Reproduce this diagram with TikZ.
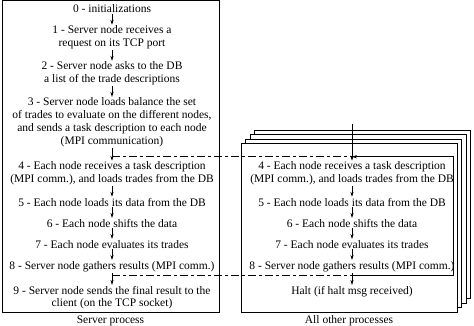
\documentclass[tikz,border=0pt]{standalone}
\usepackage{fontspec}
\setmainfont{Liberation Serif}
\usepackage{tikz}
\usetikzlibrary{arrows.meta,positioning}
\newcommand{\stepfont}{\fontsize{11.5}{12.7}\selectfont}
\tikzset{
 stepnode/.style={
 align=center,
 inner sep=1pt,
 font=\stepfont
 },
 procbox/.style={
 rectangle,
 draw=black,
 fill=white,
 line width=1pt
 },
 flowarrow/.style={-{Stealth[length=5pt,width=3.2pt]}, line width=0.6pt},
 msgline/.style={line width=0.6pt, dash pattern=on 8pt off 3pt on 3pt off 3pt}
}

\begin{document}
\begin{tikzpicture}[x=1pt, y=1pt, node distance=10.5pt]
	\useasboundingbox (0,0) rectangle (474,-326);
	% process boxes
	\node[procbox, minimum width=217pt, minimum height=311pt] (srvbox) at (110.5,-156.5) {};
	\foreach \k in {3,2,1}
		\node[procbox, minimum width=216pt, minimum height=168pt] (back\k) at (349+4.5*\k,-228+4.5*\k) {};
	\node[procbox, minimum width=216pt, minimum height=168pt] (othbox) at (349,-228) {};
	\node[stepnode, below=2pt of srvbox] (srvlbl) {Server process};
	\node[stepnode, below=2pt of othbox] (othlbl) {All other processes};

	% server process
	\node[stepnode] (s0) at (112,-9) {0 - initializations};
	\node[stepnode, below=of s0] (s1) {1 - Server node receives a\\request on its TCP port};
	\node[stepnode, below=of s1] (s2) {2 - Server node asks to the DB\\a list of the trade descriptions};
	\node[stepnode, below=of s2] (s3) {3 - Server node loads balance the set\\of trades to evaluate on the different nodes,\\and sends a task description to each node\\(MPI communication)};
	\node[stepnode, below=13pt of s3] (s4) {4 - Each node receives a task description\\(MPI comm.), and loads trades from the DB};
	\node[stepnode, below=of s4] (s5) {5 - Each node loads its data from the DB};
	\node[stepnode, below=of s5] (s6) {6 - Each node shifts the data};
	\node[stepnode, below=of s6] (s7) {7 - Each node evaluates its trades};
	\node[stepnode, below=of s7] (s8) {8 - Server node gathers results (MPI comm.)};
	\node[stepnode, below=12pt of s8] (s9) {9 - Server node sends the final result to the\\client (on the TCP socket)};

	% other processes
	\node[stepnode] (r4) at ([xshift=240pt]s4) {4 - Each node receives a task description\\(MPI comm.), and loads trades from the DB};
	\node[stepnode, below=of r4] (r5) {5 - Each node loads its data from the DB};
	\node[stepnode, below=of r5] (r6) {6 - Each node shifts the data};
	\node[stepnode, below=of r6] (r7) {7 - Each node evaluates its trades};
	\node[stepnode, below=of r7] (r8) {8 - Server node gathers results (MPI comm.)};
	\node[stepnode, below=12pt of r8] (halt) {Halt (if halt msg received)};

	\coordinate (m1) at ([yshift=4pt]s4.north);
	\coordinate (m1r) at ([yshift=4pt]r4.north);
	\coordinate (rin) at ([yshift=33pt]m1r);
	\coordinate (m2) at ([yshift=-2pt]s8.south);
	\coordinate (m2r) at ([yshift=-2pt]r8.south);
	\coordinate (loopE) at ([xshift=101pt]m2r);

	\draw[flowarrow] (s0) -- (s1);
	\draw[flowarrow] (s1) -- (s2);
	\draw[flowarrow] (s2) -- (s3);
	\draw[flowarrow] (s3) -- (s4);
	\draw[flowarrow] (s4) -- (s5);
	\draw[flowarrow] (s5) -- (s6);
	\draw[flowarrow] (s6) -- (s7);
	\draw[flowarrow] (s7) -- (s8);
	\draw[flowarrow] (s8) -- (s9);

	\draw[flowarrow] (rin) -- (r4);
	\draw[flowarrow] (r4) -- (r5);
	\draw[flowarrow] (r5) -- (r6);
	\draw[flowarrow] (r6) -- (r7);
	\draw[flowarrow] (r7) -- (r8);
	\draw[flowarrow] (r8) -- (halt);
	\draw[flowarrow] (m2r) -- (loopE) |- (m1r);

	\draw[msgline] (m1) -- (m1r);
	\draw[msgline] (m2) -- (m2r);
\end{tikzpicture}
\end{document}
